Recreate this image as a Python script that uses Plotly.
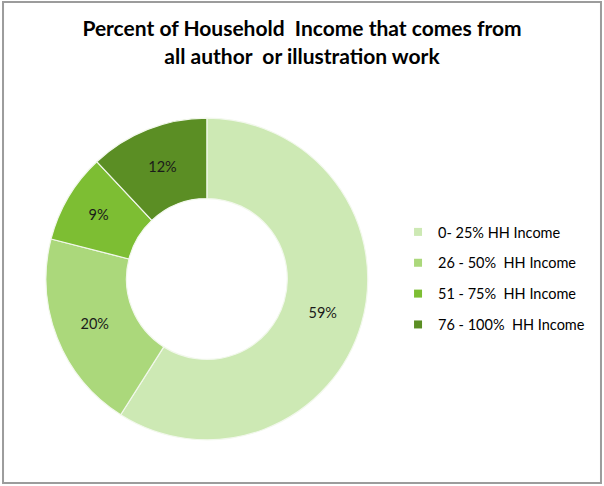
import plotly.graph_objects as go

# Slice data (clockwise from 12 o'clock)
labels = ["0- 25% HH Income", "26 - 50%  HH Income", "51 - 75%  HH Income", "76 - 100%  HH Income"]
shares = [59, 20, 9, 12]
colors = ["#cde9b4", "#abd87b", "#7dbe33", "#5b8e24"]

title_text = "Percent of Household  Income that comes from<br>all author  or illustration work"

fig = go.Figure()

fig.add_trace(go.Pie(
    labels=labels,
    values=shares,
    hole=0.5,
    sort=False,
    direction="clockwise",
    rotation=0,
    marker=dict(colors=colors, line=dict(color="#f2f8ec", width=1.2)),
    texttemplate="%{percent:.0%}",
    textposition="inside",
    insidetextorientation="horizontal",
    textfont=dict(family="Lato", size=14.5, color="#1a1a1a"),
    domain=dict(x=[0.076, 0.609], y=[0.095, 0.757]),
    showlegend=False,
    hoverinfo="label+percent",
))

# legend entries drawn as separate traces so the row spacing can be opened up
for lab, col in zip(labels, colors):
    fig.add_trace(go.Scatter(
        x=[None], y=[None], mode="markers",
        marker=dict(symbol="square", size=8, color=col),
        name=lab, legendgroup=lab, showlegend=True,
    ))

fig.update_layout(
    width=604, height=486,
    margin=dict(l=0, r=0, t=0, b=0),
    paper_bgcolor="white",
    plot_bgcolor="white",
    font=dict(family="Lato", color="#000000"),
    title=dict(text=title_text, x=0.5, xanchor="center", y=0.925, yanchor="top",
               font=dict(family="Lato", size=21, color="#000000", weight="bold")),
    xaxis=dict(visible=False),
    yaxis=dict(visible=False),
    legend=dict(x=0.659, y=0.427, xanchor="left", yanchor="middle",
                font=dict(family="Lato", size=14.5, color="#000000"),
                tracegroupgap=9, itemwidth=30, bgcolor="rgba(0,0,0,0)"),
    shapes=[dict(type="rect", xref="paper", yref="paper",
                 x0=0.005, x1=0.995, y0=0.006, y1=0.996,
                 line=dict(color="#9c9c9c", width=2))],
)

fig.write_html("out.html", config={"displayModeBar": False},
               post_script="document.body.style.margin='0';")
